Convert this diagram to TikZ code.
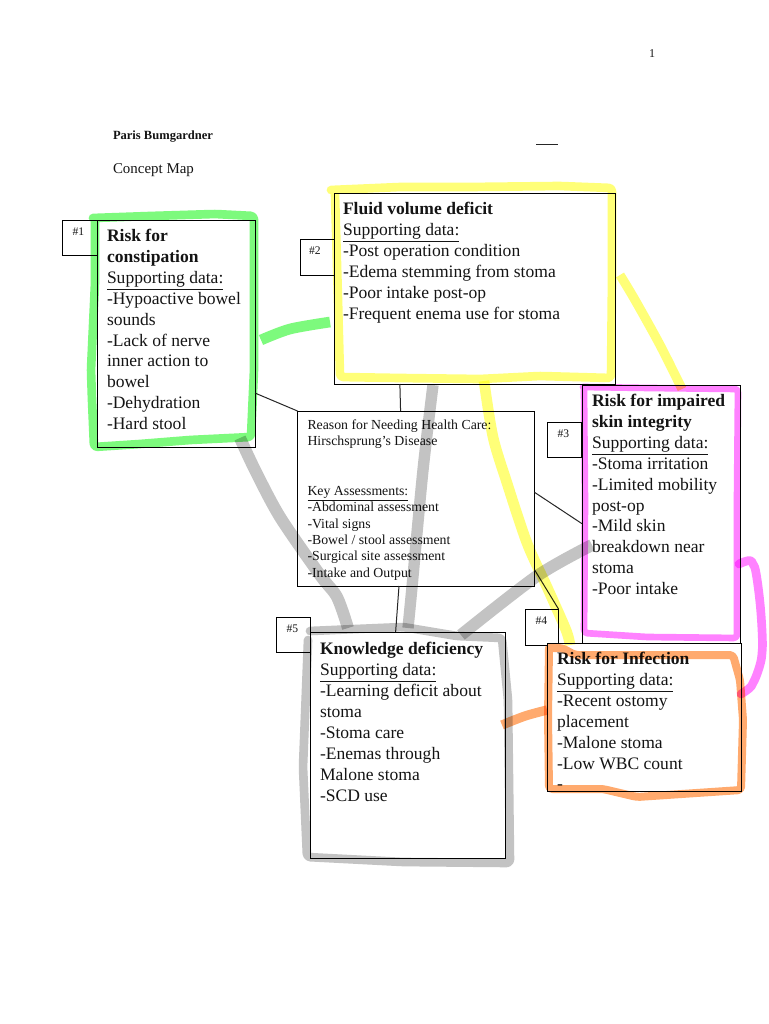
\documentclass[tikz,border=0pt]{standalone}
\usepackage{fontspec}
\setmainfont{Liberation Serif}
\usetikzlibrary{calc}
\newlength\pxu \setlength\pxu{0.75pt}
% width, height, left pad, top pad, content
\newcommand\PB[5]{\parbox[c][#2\pxu][t]{#1\pxu}{\raggedright\leftskip=#3\pxu\relax\vspace*{#4\pxu}#5\par}}
\newcommand\bodyfont{\fontsize{13.15pt}{15.7pt}\selectfont}
\newcommand\midfont{\fontsize{10.35pt}{12.35pt}\selectfont}
\newcommand\tagfont{\fontsize{8.7pt}{10pt}\selectfont}
\newcommand\sd{\underline{Supporting data:}}
\definecolor{hlgreen}{RGB}{125,250,125}
\definecolor{hlyellow}{RGB}{255,255,120}
\definecolor{hlpink}{RGB}{255,130,255}
\definecolor{hlorange}{RGB}{255,170,110}
\definecolor{hlgray}{RGB}{195,195,195}
\definecolor{ink}{RGB}{20,20,20}
\tikzset{
  panel/.style={draw=black,line width=0.75pt,fill=white,inner sep=0pt,outer sep=0pt,anchor=north west,text=ink},
  plain/.style={inner sep=0pt,outer sep=0pt,anchor=base west,text=ink},
  link/.style={draw=black!85,line width=0.75pt},
  hl/.style={line cap=round,line join=round,rounded corners=2.5pt,blend mode=multiply},
  hllink/.style={line cap=butt,blend mode=multiply},
}
\begin{document}
\begin{tikzpicture}[x=0.75pt,y=-0.75pt]
\useasboundingbox (0,0) rectangle (768,1024);
\fill[white] (0,0) rectangle (768,1024);

\node[plain,font=\fontsize{9pt}{10pt}\selectfont] (pagenum) at (649,58) {1};
\node[plain,font=\fontsize{9.4pt}{11pt}\selectfont\bfseries] (author) at (113,139) {Paris Bumgardner};
\node[plain,font=\fontsize{11.2pt}{13pt}\selectfont] (title) at (113,173) {Concept Map};
\coordinate (ruleA) at (536,144);
\coordinate (ruleB) at (558,144);
\draw[link] (ruleA) -- (ruleB);

% tags
\node[panel] (tag1) at (62.5,220) {\PB{34.5}{35}{10}{8}{\tagfont\#1}};
\node[panel] (tag2) at (300,239) {\PB{34}{36}{9}{8}{\tagfont\#2}};
\node[panel] (tag3) at (547.5,422) {\PB{33.5}{35}{10}{8}{\tagfont\#3}};
\node[panel] (tag4) at (525.5,609) {\PB{33}{36}{10}{8}{\tagfont\#4}};
\node[panel] (tag5) at (276.5,617) {\PB{33.5}{35}{10}{8}{\tagfont\#5}};

% boxes
\node[panel] (box1) at (97,220) {\PB{158}{227}{10}{9}{\bodyfont
  \textbf{Risk for}\\\textbf{constipation}\\\sd\\-Hypoactive bowel\\sounds\\-Lack of nerve\\inner action to\\bowel\\-Dehydration\\-Hard stool}};
\node[panel] (box2) at (334,193) {\PB{281}{191}{9}{9}{\bodyfont
  \textbf{Fluid volume deficit}\\\sd\\-Post operation condition\\-Edema stemming from stoma\\-Poor intake post-op\\-Frequent enema use for stoma}};
\node[panel] (core) at (297.5,411) {\PB{237}{175}{10}{8.5}{\midfont
  Reason for Needing Health Care:\\Hirschsprung's Disease\\~\\~\\\underline{Key Assessments:}\\-Abdominal assessment\\-Vital signs\\-Bowel / stool assessment\\-Surgical site assessment\\-Intake and Output}};
\node[panel] (box3) at (582,385) {\PB{158}{258}{10}{9}{\bodyfont
  \textbf{Risk for impaired}\\\textbf{skin integrity}\\\sd\\-Stoma irritation\\-Limited mobility\\post-op\\-Mild skin\\breakdown near\\stoma\\-Poor intake}};
\node[panel] (box4) at (547,643) {\PB{194}{148}{10}{9}{\bodyfont
  \textbf{Risk for Infection}\\\sd\\-Recent ostomy\\placement\\-Malone stoma\\-Low WBC count\\-}};
\node[panel] (box5) at (310,632) {\PB{195}{226}{10}{10.5}{\bodyfont
  \textbf{Knowledge deficiency}\\\sd\\-Learning deficit about\\stoma\\-Stoma care\\-Enemas through\\Malone stoma\\-SCD use}};

% thin connectors
\draw[link] (box1.-37.9) -- (core.north west);
\draw[link] (box2.232.04) -- (core.100.36);
\draw[link] (core.3.62) -- (box3.187.2);
\draw[link] (core.259.64) -- (box5.96.3);
\draw[link] (core.-31.1) -- (tag4.north east);

% highlighter: green
\draw[hl,draw=hlgreen,line width=6.5pt] (93,218) -- (150,216) -- (215,214) -- (254,216) -- (254,300) -- (254,370) -- (251,437) -- (190,440) -- (140,444) -- (94,447) -- (92,400) -- (91,370) -- (95,283) -- (95,222);
\draw[hllink,draw=hlgreen,line width=8pt] plot[smooth,tension=.5] coordinates {(261,340) (290,329) (330,322)};
% yellow
\draw[hl,draw=hlyellow,line width=6.5pt] (331,190) -- (400,187) -- (470,187) -- (560,186) -- (612,188) -- (612,280) -- (611,378) -- (540,376) -- (480,379) -- (400,378) -- (340,377) -- (338,300) -- (335,194);
\draw[hllink,draw=hlyellow,line width=7pt] plot[smooth,tension=.5] coordinates {(620,275) (635,300) (660,345) (682,389)};
\draw[hllink,draw=hlyellow,line width=8pt] plot[smooth,tension=.5] coordinates {(484,381) (493,437) (507,483) (527,543) (547,587) (566,630) (570,645)};
% pink
\draw[hl,draw=hlpink,line width=5pt] (583,387) -- (650,388) -- (738,389) -- (737,500) -- (737,638) -- (647,637) -- (584,633) -- (585,503) -- (584,390);
\draw[hl,draw=hlpink,line width=6.5pt] plot[smooth,tension=.5] coordinates {(739,564) (753,564) (760,603) (762,653) (753,683) (741,694)};
% orange
\draw[hl,draw=hlorange,line width=6pt] (549,648) -- (562,648) -- (575,655) -- (650,655) -- (733,655) -- (740,680) -- (743,720) -- (741,790) -- (637,797) -- (603,789) -- (549,789) -- (548,717) -- (549,648);
\draw[hllink,draw=hlorange,line width=7pt] plot[smooth,tension=.5] coordinates {(502,725) (525,716) (547,710)};
% gray
\draw[hl,draw=hlgray,line width=6.5pt] (310,631) -- (403,627) -- (457,636) -- (502,638) -- (508,700) -- (510,863) -- (403,862) -- (307,857) -- (303,767) -- (308,640);
\draw[hllink,draw=hlgray,line width=9pt] plot[smooth,tension=.5] coordinates {(240,438) (255,470) (280,517) (320,575) (337,597) (348,628)};
\draw[hllink,draw=hlgray,line width=8.5pt] plot[smooth,tension=.5] coordinates {(433,385) (423,470) (412,587) (408,628)};
\draw[hllink,draw=hlgray,line width=9pt] plot[smooth,tension=.5] coordinates {(592,545) (537,576) (461,635)};
\end{tikzpicture}
\end{document}
